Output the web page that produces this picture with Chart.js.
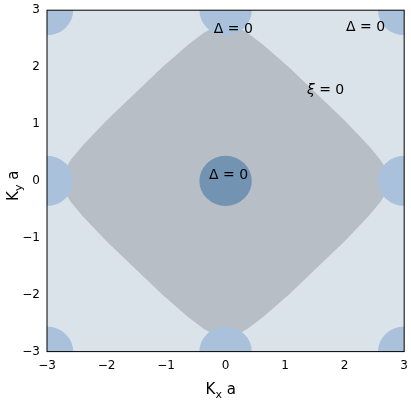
<!DOCTYPE html>
<html>
<head>
<meta charset="utf-8">
<script src="https://cdn.jsdelivr.net/npm/chart.js@4"></script>
<style>
  html, body { margin: 0; padding: 0; background: #fff; }
  #wrap { width: 411px; height: 402px; }
</style>
</head>
<body>
<div id="wrap"><canvas id="c"></canvas></div>
<script>
// quarter of the xi = 0 contour (kx, ky >= 0)
var contourKx = [2.75, 2.7, 2.6, 2.4, 2.0, 1.53, 1.06, 0.62, 0.37, 0.2, 0];
var contourKy = [0, 0.2, 0.37, 0.62, 1.06, 1.53, 2.0, 2.4, 2.6, 2.7, 2.75];

// Delta = 0 circles
var circleX = [0, 3, -3, 0, 0, 3, 3, -3, -3];
var circleY = [0, 0, 0, 3, -3, 3, -3, 3, -3];
var circleR = 0.44;

var tickValues = [-3, -2, -1, 0, 1, 2, 3];

var labelText = ['Δ = 0', 'Δ = 0', 'ξ = 0', 'Δ = 0'];
var labelX = [0.13, 2.35, 1.68, 0.05];
var labelY = [2.67, 2.7, 1.59, 0.1];

// build the closed contour by mirroring the quarter
var contour = [];
[[1, 1], [-1, 1], [-1, -1], [1, -1]].forEach(function (s, q) {
  for (var i = 0; i < contourKx.length; i++) {
    var j = (q % 2 === 0) ? i : contourKx.length - 1 - i;
    contour.push({ x: s[0] * contourKx[j], y: s[1] * contourKy[j] });
  }
});
contour.push(contour[0]);

function drawLabel(ctx, text, x, y) {
  // xi is drawn italic, the rest upright
  if (text.charAt(0) === 'ξ') {
    ctx.font = '14px "DejaVu Sans"';
    var rest = text.slice(1);
    ctx.font = 'italic 14px "DejaVu Sans"';
    var w1 = ctx.measureText('ξ').width;
    ctx.font = '14px "DejaVu Sans"';
    var w2 = ctx.measureText(rest).width;
    var start = x - (w1 + w2) / 2;
    ctx.textAlign = 'left';
    ctx.font = 'italic 14px "DejaVu Sans"';
    ctx.fillText('ξ', start, y);
    ctx.font = '14px "DejaVu Sans"';
    ctx.fillText(rest, start + w1, y);
  } else {
    ctx.textAlign = 'center';
    ctx.font = '14px "DejaVu Sans"';
    ctx.fillText(text, x, y);
  }
}

var shapes = {
  id: 'shapes',
  beforeDatasetsDraw: function (chart) {
    var ctx = chart.ctx, a = chart.chartArea;
    var xs = chart.scales.x, ys = chart.scales.y;
    ctx.save();
    ctx.beginPath();
    ctx.rect(a.left, a.top, a.right - a.left, a.bottom - a.top);
    ctx.clip();
    ctx.fillStyle = '#dae2ea';
    ctx.fillRect(a.left, a.top, a.right - a.left, a.bottom - a.top);
    // contour region
    ctx.beginPath();
    contour.forEach(function (p, i) {
      var px = xs.getPixelForValue(p.x), py = ys.getPixelForValue(p.y);
      if (i === 0) ctx.moveTo(px, py); else ctx.lineTo(px, py);
    });
    ctx.closePath();
    ctx.fillStyle = '#b8bec6';
    ctx.fill();
    // circles
    for (var k = 0; k < circleX.length; k++) {
      var cx = xs.getPixelForValue(circleX[k]), cy = ys.getPixelForValue(circleY[k]);
      var rx = Math.abs(xs.getPixelForValue(circleR) - xs.getPixelForValue(0));
      var ry = Math.abs(ys.getPixelForValue(circleR) - ys.getPixelForValue(0));
      ctx.beginPath();
      ctx.ellipse(cx, cy, rx, ry, 0, 0, Math.PI * 2);
      ctx.fillStyle = k === 0 ? '#7393b3' : '#a9c1da';
      ctx.fill();
    }
    // labels
    ctx.fillStyle = '#000';
    ctx.textBaseline = 'middle';
    for (var m = 0; m < labelText.length; m++) {
      drawLabel(ctx, labelText[m], xs.getPixelForValue(labelX[m]), ys.getPixelForValue(labelY[m]));
    }
    ctx.restore();
  },
  afterDraw: function (chart) {
    var ctx = chart.ctx, a = chart.chartArea;
    ctx.save();
    ctx.strokeStyle = '#000';
    ctx.lineWidth = 1;
    ctx.strokeRect(a.left, a.top, a.right - a.left, a.bottom - a.top);
    ctx.fillStyle = '#000';
    ctx.textBaseline = 'alphabetic';
    // x title
    var mx = (a.left + a.right) / 2;
    ctx.font = '15px "DejaVu Sans"';
    ctx.textAlign = 'left';
    var x0 = mx - 20;
    ctx.fillText('K', x0, 394);
    var w = ctx.measureText('K').width;
    ctx.font = '11px "DejaVu Sans"';
    ctx.fillText('x', x0 + w, 398);
    var w2 = ctx.measureText('x').width;
    ctx.font = '15px "DejaVu Sans"';
    ctx.fillText(' a', x0 + w + w2, 394);
    // y title
    ctx.translate(18, (a.top + a.bottom) / 2 + 20);
    ctx.rotate(-Math.PI / 2);
    ctx.fillText('K', 0, 0);
    ctx.font = '11px "DejaVu Sans"';
    ctx.fillText('y', w, 4);
    var w3 = ctx.measureText('y').width;
    ctx.font = '15px "DejaVu Sans"';
    ctx.fillText(' a', w + w3, 0);
    ctx.restore();
  }
};

function tickFmt(v) { return v < 0 ? '−' + Math.abs(v) : String(v); }

new Chart(document.getElementById('c'), {
  type: 'scatter',
  data: { datasets: [{ data: [], pointRadius: 0 }] },
  options: {
    responsive: true,
    maintainAspectRatio: false,
    animation: false,
    layout: { padding: { left: 14, right: 4, top: 8, bottom: 26 } },
    plugins: { legend: { display: false }, tooltip: { enabled: false } },
    scales: {
      x: {
        type: 'linear', min: -3, max: 3,
        afterBuildTicks: function (s) { s.ticks = tickValues.map(function (v) { return { value: v }; }); },
        ticks: { callback: tickFmt, color: '#000', font: { family: 'DejaVu Sans', size: 12 }, maxRotation: 0 },
        grid: { display: false, drawTicks: true, tickLength: 4, tickColor: '#000' },
        border: { display: false }
      },
      y: {
        type: 'linear', min: -3, max: 3,
        afterBuildTicks: function (s) { s.ticks = tickValues.map(function (v) { return { value: v }; }); },
        afterFit: function (s) { s.width = 33; },
        ticks: { callback: tickFmt, color: '#000', font: { family: 'DejaVu Sans', size: 12 } },
        grid: { display: false, drawTicks: true, tickLength: 4, tickColor: '#000' },
        border: { display: false }
      }
    }
  },
  plugins: [shapes]
});
</script>
</body>
</html>
